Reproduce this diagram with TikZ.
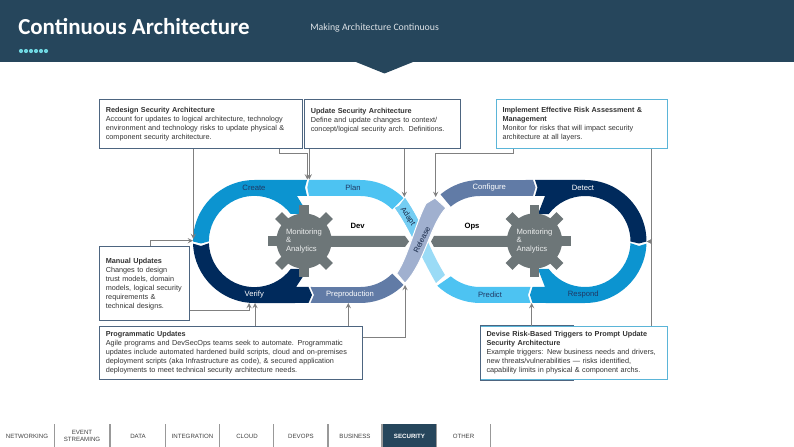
\documentclass[tikz,border=0pt]{standalone}
\usepackage{fontspec}
\setmainfont{Liberation Sans}
\newfontfamily\titlefont{Carlito}
\usepackage{tikz}

\definecolor{headerblue}{HTML}{26465C}
\definecolor{dotteal}{HTML}{6FD6E0}
\definecolor{createblue}{HTML}{0C94D0}
\definecolor{planblue}{HTML}{4DC3F2}
\definecolor{adaptblue}{HTML}{74CDF3}
\definecolor{paleblue}{HTML}{9ADBF6}
\definecolor{verifynavy}{HTML}{002A5C}
\definecolor{prepblue}{HTML}{617BA6}
\definecolor{releaseblue}{HTML}{A0B0CF}
\definecolor{gearfill}{HTML}{6D7678}
\definecolor{linegray}{HTML}{808080}
\definecolor{boxedge}{HTML}{4D6580}
\definecolor{boxcyan}{HTML}{5BB5D8}
\definecolor{labelnavy}{HTML}{1F3864}

\newcommand{\boxfont}{\fontsize{5.45}{6.75}\selectfont}
\newcommand{\loopfont}{\fontsize{5.75}{6.45}\selectfont}
\newcommand{\tabfont}{\fontsize{4.6}{5.4}\selectfont}
\newcommand{\crossband}{(405,249) .. controls (425,220) and (425,205) .. (445,172)
    -- (436,164) .. controls (418,195) and (412,215) .. (395,239) -- (399,241) -- cycle}

\tikzset{
    infobox/.style={draw=boxedge, line width=0.75pt, fill=white, align=left, anchor=north west,
        inner xsep=4.5pt, inner ysep=0pt, font=\boxfont, text=black!80, text width=#1},
    link/.style={draw=linegray, line width=0.75pt, ->, >=stealth},
    looplabel/.style={font=\loopfont, inner sep=0pt},
    hub/.style={circle, fill=gearfill, minimum size=41.5pt, inner sep=0pt, align=left,
        font=\loopfont, text=white!88!gearfill},
    tablabel/.style={font=\tabfont, align=center, inner sep=0pt, text=black!75},
    tabline/.style={draw=black!40, line width=1.1pt}
}

\begin{document}
\begin{tikzpicture}[x=0.75pt,y=0.75pt]
    \useasboundingbox (0,0) rectangle (794,447);

    % header
    \fill[headerblue] (0,447) rectangle (794,385);
    \fill[headerblue] (356,385) -- (384.5,373.5) -- (413,385) -- cycle;
    \node[anchor=west, inner sep=0pt, text=white, font=\titlefont\bfseries\fontsize{17.2}{20}\selectfont] (title) at (18,420) {Continuous Architecture};
    \node[anchor=west, inner sep=0pt, text=white!85!headerblue, font=\titlefont\fontsize{7.35}{9}\selectfont] (subtitle) at (310,419.5) {Making Architecture Continuous};
    \foreach \x in {21,26,31,36,41,46}
        \fill[dotteal] (\x,396) circle (2.1);

    % left loop
    \fill[createblue] (193,205.5) arc (180:90:61.5) -- (307,267) -- (305,259.5) -- (307,251) -- (297,251)
        -- (308,233) -- (290.7,233) arc (37:180:45.5) -- (201,203.5) -- cycle;
    \fill[verifynavy] (193.04,203.35) arc (182:270:61.5) -- (308.5,144) -- (312,152) -- (308.5,160) -- (296,160)
        -- (308,178) -- (290.7,178) arc (-37:-178:45.5) -- (201,201) -- cycle;
    \fill[planblue] (309,267) -- (360,267) arc (90:45:61.5) -- (392.2,237.7) arc (45:90:45.5) -- (309,251) -- (307.3,259.5) -- cycle;
    \fill[prepblue] (310.5,144) -- (360,144) arc (-90:-45:61.5) -- (392.2,173.3) arc (-45:-90:45.5) -- (310.5,160) -- (314,152) -- cycle;

    % right loop
    \fill[prepblue] (440.5,252.6) arc (130:90:61.5) -- (533,267) -- (535.5,259.5) -- (533,251) -- (480,251) arc (90:130:45.5) -- cycle;
    \fill[verifynavy] (535,267) -- (585,267) arc (90:0:61.5) -- (639,203.5) -- (630.5,205.5) arc (0:143:45.5)
        -- (538,233) -- (545,251) -- (535,251) -- (537.5,259.5) -- cycle;
    \fill[planblue] (437.3,161.3) arc (-134:-90:61.5) -- (530.5,144) -- (528,152) -- (530.5,160) -- (480,160) arc (-90:-130:45.5) -- cycle;
    \fill[createblue] (646.46,203.35) arc (-2:-90:61.5) -- (532.5,144) -- (530,152) -- (532.5,160) -- (545,160)
        -- (538,178) -- (548.7,178.1) arc (-143:-2:45.5) -- (639,201) -- cycle;

    % crossing
    \fill[paleblue] \crossband;
    \begin{scope}
        \clip (380,205.5) rectangle (460,260);
        \fill[adaptblue] \crossband;
    \end{scope}
    \fill[gearfill] (304,211) -- (405,211) -- (409,205.5) -- (405,200) -- (304,200) -- cycle;
    \fill[gearfill] (534,211) -- (434,211) -- (431,205.5) -- (434,200) -- (534,200) -- cycle;
    \fill[releaseblue, draw=white, line width=0.75pt] (426,243.5) -- (435,249) -- (446,239)
        .. controls (430,222) and (425,185) .. (405,163.7) -- (396.7,173.7)
        .. controls (408,190) and (416,225) .. (426,243.5) -- cycle;

    % gears
    \coordinate (gearleft) at (304,206);
    \coordinate (gearright) at (534.5,206);
    \foreach \gear in {gearleft,gearright}
        \foreach \a in {0,45,...,315}
            \fill[gearfill, shift={(\gear)}, rotate=\a] (24,-4.8) rectangle (36,4.8);
    \node[hub] (hubleft) at (gearleft) {Monitoring\\\&\\Analytics};
    \node[hub] (hubright) at (gearright) {Monitoring\\\&\\Analytics};

    % loop labels
    \node[looplabel, text=labelnavy] (create) at (254,259) {Create};
    \node[looplabel, text=labelnavy] (plan) at (353,259) {Plan};
    \node[looplabel, text=white] (verify) at (254.3,152) {Verify};
    \node[looplabel, text=white] (preproduction) at (350,152) {Preproduction};
    \node[looplabel, text=white] (configure) at (489.3,259) {Configure};
    \node[looplabel, text=white] (detect) at (583,259) {Detect};
    \node[looplabel, text=labelnavy] (predict) at (490,152) {Predict};
    \node[looplabel, text=labelnavy] (respond) at (583.3,152) {Respond};
    \node[looplabel, font=\loopfont\bfseries] (dev) at (357.7,220.7) {Dev};
    \node[looplabel, font=\loopfont\bfseries] (ops) at (472,220.7) {Ops};
    \node[looplabel, text=labelnavy!70!black, rotate=-55] (adapt) at (407.7,230.3) {Adapt};
    \node[looplabel, text=labelnavy!70!black, rotate=63] (release) at (421.7,207) {Release};

    % text boxes
    \node[infobox=142.8pt, minimum height=36.75pt] (redesign) at (99.3,347.7)
        {\textbf{Redesign Security Architecture}\\Account for updates to logical architecture, technology\\environment and technology risks to update physical \&\\component security architecture.};
    \node[infobox=107.8pt, minimum height=36.75pt] (update) at (304.3,347.7)
        {\textbf{Update Security Architecture}\\Define and update changes to context/\\concept/logical security arch. Definitions.\\\mbox{}};
    \node[infobox=119pt, minimum height=36.75pt, draw=boxcyan] (implement) at (496,347.7)
        {\textbf{Implement Effective Risk Assessment \&}\\\textbf{Management}\\Monitor for risks that will impact security\\architecture at all layers.};
    \node[infobox=58.5pt, minimum height=55.7pt] (manual) at (99.3,201)
        {\textbf{Manual Updates}\\Changes to design\\trust models, domain\\models, logical security\\requirements \&\\technical designs.};
    \node[infobox=187.8pt, minimum height=40pt] (programmatic) at (99.3,121.3)
        {\textbf{Programmatic Updates}\\Agile programs and DevSecOps teams seek to automate. Programmatic\\updates include automated hardened build scripts, cloud and on-premises\\deployment scripts (aka Infrastructure as code), \& secured application\\deployments to meet technical security architecture needs.};
    \node[infobox=131pt, minimum height=40pt, draw=boxcyan] (devise) at (480,121.3)
        {\textbf{Devise Risk-Based Triggers to Prompt Update}\\\textbf{Security Architecture}\\Example triggers: New business needs and drivers,\\new threats/vulnerabilities --- risks identified,\\capability limits in physical \& component archs.};
    \draw[boxedge, line width=0.75pt] (devise.north) -- (devise.north west) -- (devise.south west) -- (devise.south);

    % connectors
    \coordinate (tipcreate) at (193.3,208);
    \coordinate (tipmanual) at (193,206.3);
    \coordinate (bendmanual) at (150,206.3);
    \coordinate (bendplan) at (279,293);
    \coordinate (tipplanone) at (307.3,267.5);
    \coordinate (tipplantwo) at (309.3,267.5);
    \coordinate (tipadapt) at (404.3,250);
    \coordinate (bendconfigure) at (513.3,293.7);
    \coordinate (tipconfigure) at (435.7,250);
    \coordinate (bendright) at (651.7,205.5);
    \coordinate (tipright) at (646.8,205.5);
    \coordinate (tiprespond) at (531.7,144);
    \coordinate (bendverify) at (249,136.3);
    \coordinate (tipverify) at (249,144);
    \coordinate (tipverifytwo) at (255,144);
    \coordinate (tippreprod) at (348.3,144);
    \coordinate (bendrelease) at (405,109.3);
    \coordinate (tiprelease) at (405,162);
    \draw[link] (redesign.south -| tipcreate) -- (tipcreate);
    \draw[link] (redesign.south -| bendplan) -- (bendplan) -| (tipplanone);
    \draw[link] (update.south -| tipplantwo) -- (tipplantwo);
    \draw[link] (update.south -| tipadapt) -- (tipadapt);
    \draw[link] (implement.south -| bendconfigure) -- (bendconfigure) -| (tipconfigure);
    \draw[link] (implement.south -| bendright) -- (bendright) -- (tipright);
    \draw[link] (devise.north -| bendright) -- (bendright) -- (tipright);
    \draw[link] (devise.north -| tiprespond) -- (tiprespond);
    \draw[link] (manual.north -| bendmanual) -- (bendmanual) -- (tipmanual);
    \draw[link] (manual.east |- bendverify) -- (bendverify) -- (tipverify);
    \draw[link] (programmatic.north -| tipverifytwo) -- (tipverifytwo);
    \draw[link] (programmatic.north -| tippreprod) -- (tippreprod);
    \draw[link] (programmatic.east |- bendrelease) -- (bendrelease) -- (tiprelease);

    % tabs
    \fill[headerblue] (382,22.7) rectangle (436.7,0);
    \foreach \x in {54.3,110,165.3,219.7,273.7,328,382,436.7,490.7}
        \draw[tabline] (\x,22.7) -- (\x,0);
    \foreach \x/\name/\txt in {27/networking/NETWORKING,82/streaming/{EVENT\\STREAMING},138/data/DATA,192.5/integration/INTEGRATION,247/cloud/CLOUD,301/devops/DEVOPS,355/business/BUSINESS,463.5/other/OTHER}
        \node[tablabel] (\name) at (\x,11) {\txt};
    \node[tablabel, text=white, font=\tabfont\bfseries] (security) at (409.5,11) {SECURITY};
\end{tikzpicture}
\end{document}
